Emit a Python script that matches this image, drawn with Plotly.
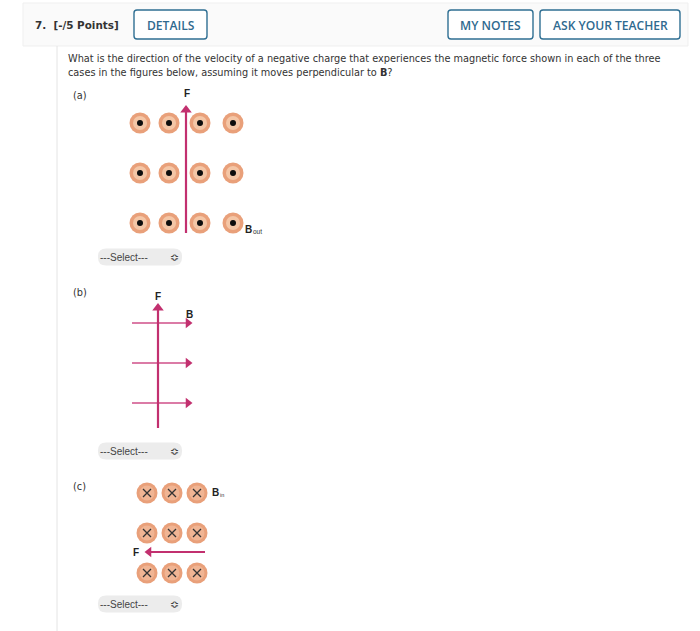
import plotly.graph_objects as go

# (a) field-out grid
a_x = [140, 169, 200, 233]
a_y = [123, 173, 223]
a_force_x = [186, 186]
a_force_y = [233, 112]
# (b) field lines and force
b_line_x = [132, 186]
b_line_y = [323, 363, 403]
b_head_x = [188, 188, 188]
b_force_x = [158, 158]
b_force_y = [428, 310]
# (c) field-in grid
c_x = [147, 172, 197]
c_y = [493, 533, 573]
c_force_x = [205, 149]
c_force_y = [552, 552]

question = ["What is the direction of the velocity of a negative charge that experiences the magnetic force shown in each of the three",
            "cases in the figures below, assuming it moves perpendicular to <b>B</b>?"]
question_y = [58, 72]
part_labels = ["(a)", "(b)", "(c)"]
part_y = [95, 292, 486]
select_y = [257, 451, 604]
buttons = [("DETAILS", 134, 207), ("MY NOTES", 448, 533), ("ASK YOUR TEACHER", 540, 680)]

MAG = "#c2306f"
MAG_L = "#cf4f88"
fig = go.Figure()


def rrect(x0, y0, x1, y1, r):
    return (f"M{x0+r},{y0} L{x1-r},{y0} Q{x1},{y0} {x1},{y0+r} L{x1},{y1-r} Q{x1},{y1} {x1-r},{y1} "
            f"L{x0+r},{y1} Q{x0},{y1} {x0},{y1-r} L{x0},{y0+r} Q{x0},{y0} {x0+r},{y0} Z")


shapes = [
    dict(type="rect", x0=23, x1=688, y0=3, y1=46, fillcolor="#fafafa", line=dict(color="#efefef", width=1), layer="below"),
    dict(type="line", x0=57, x1=57, y0=46, y1=631, line=dict(color="#e4e4e4", width=1), layer="below"),
]
for _, x0, x1 in buttons:
    shapes.append(dict(type="path", path=rrect(x0, 10, x1, 39, 3), fillcolor="#ffffff",
                       line=dict(color="#2f6f93", width=1.4), layer="below"))
for y in select_y:
    shapes.append(dict(type="path", path=rrect(98, y - 8.5, 182, y + 8.5, 8), fillcolor="#ececec",
                       line=dict(width=0), layer="below"))
fig.update_layout(shapes=shapes)


def field(xs, ys):
    px = [x for _ in ys for x in xs]
    py = [y for y in ys for _ in xs]
    fig.add_trace(go.Scatter(x=px, y=py, mode="markers", hoverinfo="skip",
                             marker=dict(size=21, color="#e9a07a", line=dict(width=0))))
    return px, py


px, py = field(a_x, a_y)
fig.add_trace(go.Scatter(x=px, y=py, mode="markers", hoverinfo="skip",
                         marker=dict(size=14, color="#f4c6a6", line=dict(width=0))))
fig.add_trace(go.Scatter(x=px, y=py, mode="markers", hoverinfo="skip",
                         marker=dict(size=6, color="#0d0d0d")))
px, py = field(c_x, c_y)
fig.add_trace(go.Scatter(x=px, y=py, mode="markers", hoverinfo="skip",
                         marker=dict(size=15, color="#f0b594", line=dict(width=0))))
fig.add_trace(go.Scatter(x=px, y=py, mode="markers", hoverinfo="skip",
                         marker=dict(size=8, color="#333333", symbol="x-thin",
                                     line=dict(width=1.3, color="#333333"))))


def line(xs, ys, width=2.2, color=MAG):
    fig.add_trace(go.Scatter(x=xs, y=ys, mode="lines", hoverinfo="skip", line=dict(color=color, width=width)))


def head(x, y, sym, size=10):
    fig.add_trace(go.Scatter(x=[x], y=[y], mode="markers", hoverinfo="skip",
                             marker=dict(symbol=sym, size=size, color=MAG, line=dict(width=0))))


line(a_force_x, a_force_y)
head(a_force_x[1], a_force_y[1] - 2, "triangle-up", 10)
for y, hx in zip(b_line_y, b_head_x):
    line(b_line_x, [y, y], 1.5, MAG_L)
    head(hx, y, "triangle-right", 9)
line(b_force_x, b_force_y)
head(b_force_x[1], b_force_y[1] - 2, "triangle-up", 10)
line(c_force_x, c_force_y)
head(c_force_x[1], c_force_y[1], "triangle-left", 9)


def txt(x, y, s, size=11, color="#333333", family="DejaVu Sans", anchor="left", weight=None):
    f = dict(size=size, color=color, family=family)
    if weight:
        f["weight"] = weight
    fig.add_annotation(x=x, y=y, text=s, showarrow=False, xanchor=anchor, yanchor="middle",
                       font=f, xref="x", yref="y", borderpad=0, borderwidth=0)


txt(35, 25, "<b>7.  [-/5 Points]</b>", 10.4)
for name, x0, x1 in buttons:
    txt((x0 + x1) / 2, 25, name, 12.1, "#2f6a8f", "Open Sans", "center", 600)
for y, s in zip(question_y, question):
    txt(68, y, s, 9.75)
for y, s in zip(part_y, part_labels):
    txt(73, y, s, 9.75)
for y in select_y:
    txt(100, y, "---Select---", 10, "#444444", "Liberation Sans")
    txt(174.5, y, "≎", 11, "#444444", "DejaVu Sans", "center")

B = "Liberation Sans"
txt(187, 93, "<b>F</b>", 10, "#222222", B, "center")
txt(245, 229, "<b>B</b>", 10, "#222222", B)
txt(253, 231, "out", 6.5, "#333333", B)
txt(158, 296, "<b>F</b>", 10, "#222222", B, "center")
txt(189, 314, "<b>B</b>", 10, "#222222", B, "center")
txt(212, 492, "<b>B</b>", 10, "#222222", B)
txt(220, 495, "in", 5.5, "#333333", B)
txt(136, 552, "<b>F</b>", 10, "#222222", B, "center")

fig.update_layout(
    width=700, height=631, margin=dict(l=0, r=0, t=0, b=0),
    paper_bgcolor="#ffffff", plot_bgcolor="#ffffff", showlegend=False,
    xaxis=dict(range=[0, 700], visible=False, fixedrange=True),
    yaxis=dict(range=[631, 0], visible=False, fixedrange=True),
)
fig.write_html("out.html", config=dict(displayModeBar=False),
               post_script="document.body.style.margin='0';")
